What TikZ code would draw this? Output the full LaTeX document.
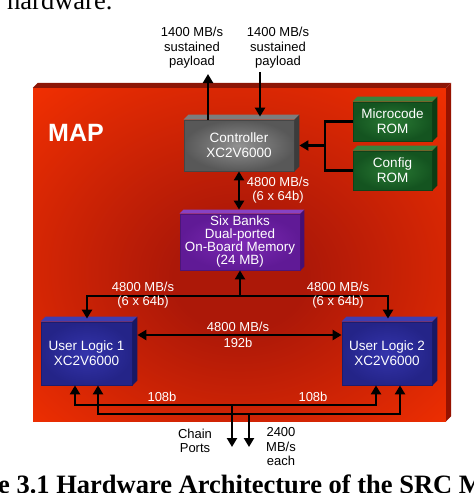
\documentclass[tikz,border=0pt]{standalone}
\usepackage{fontspec}
\setmainfont{Liberation Serif}
\newfontfamily\arialf{Liberation Sans}
\usetikzlibrary{arrows.meta,calc}
\definecolor{mapout}{RGB}{255,52,0}
\definecolor{mapin}{RGB}{172,24,8}
\definecolor{maptop}{RGB}{140,22,6}
\definecolor{mapside}{RGB}{150,18,0}
\definecolor{ctrlin}{RGB}{145,145,145}
\definecolor{ctrlout}{RGB}{88,88,88}
\definecolor{ctrltop}{RGB}{125,125,125}
\definecolor{ctrlside}{RGB}{60,60,60}
\definecolor{romin}{RGB}{42,122,52}
\definecolor{romout}{RGB}{20,84,32}
\definecolor{romtop}{RGB}{55,132,62}
\definecolor{romside}{RGB}{12,60,20}
\definecolor{memin}{RGB}{125,42,180}
\definecolor{memout}{RGB}{96,26,150}
\definecolor{memtop}{RGB}{135,65,195}
\definecolor{memside}{RGB}{70,15,115}
\definecolor{ulin}{RGB}{52,52,172}
\definecolor{ulout}{RGB}{36,36,136}
\definecolor{ultop}{RGB}{62,62,178}
\definecolor{ulside}{RGB}{24,24,100}
\pgfdeclareradialshading{mapshade}{\pgfpoint{0bp}{-4bp}}{color(0bp)=(mapin); color(8bp)=(mapin); color(42bp)=(mapout); color(50bp)=(mapout)}
\newcommand\cubenode[7]{%
  \node[#6, minimum width={(#4-#2)*1pt}, minimum height={(#5-#3)*1pt}] (#1) at ({(#2+#4)/2},{(#3+#5)/2}) {#7};}
\newcommand\extr[4]{%
  \fill[#2] (#1.north west) -- ([shift={(#4pt,#4pt)}]#1.north west) -- ([shift={(#4pt,#4pt)}]#1.north east) -- (#1.north east) -- cycle;
  \fill[#3] (#1.north east) -- ([shift={(#4pt,#4pt)}]#1.north east) -- ([shift={(#4pt,#4pt)}]#1.south east) -- (#1.south east) -- cycle;}
\begin{document}
\begin{tikzpicture}[x=1pt,y=-1pt,
  lbl/.style={font=\arialf\fontsize{13}{14.5}\selectfont, align=center, inner sep=0},
  wlbl/.style={lbl, text=white},
  boxbase/.style={inner sep=0, align=center, text=white, font=\arialf\fontsize{13.5}{15}\selectfont, shading=radial},
  ctrlsty/.style={boxbase, inner color=ctrlin, outer color=ctrlout, draw=ctrlout!80!black, line width=0.8},
  romsty/.style={boxbase, inner color=romin, outer color=romout, draw=romout!80!black, line width=0.8},
  memsty/.style={boxbase, inner color=memin, outer color=memout, draw=memout!80!black, line width=0.8, font=\arialf\fontsize{13.4}{13}\selectfont},
  ulsty/.style={boxbase, inner color=ulin, outer color=ulout, draw=ulout!80!black, line width=0.8},
  wire/.style={line width=2.6, line join=miter},
  tip/.tip={Triangle[length=9pt,width=10pt]},
  conn/.style={wire, -tip},
  dconn/.style={wire, tip-tip}]
\useasboundingbox (0,0) rectangle (474,493);
\clip (0,0) rectangle (474,493);
% MAP board
\node[inner sep=0, minimum width=413pt, minimum height=333pt, shading=mapshade] (map) at (239.5,254.5) {};
\extr{map}{maptop}{mapside}{5}
\node[font=\arialf\bfseries\fontsize{25}{25}\selectfont, text=white, inner sep=0] (maplbl) at (76,133) {MAP};
% boxes
\cubenode{ctrl}{184}{120}{294}{171}{ctrlsty}{Controller\\XC2V6000}
\extr{ctrl}{ctrltop}{ctrlside}{5}
\cubenode{mc}{353}{102}{432}{141}{romsty}{Microcode\\ROM}
\extr{mc}{romtop}{romside}{5}
\cubenode{cfg}{353}{151}{432}{190}{romsty}{Config\\ROM}
\extr{cfg}{romtop}{romside}{5}
\cubenode{mem}{180}{214}{300}{270}{memsty}{Six Banks\\Dual-ported\\On-Board Memory\\(24 MB)}
\extr{mem}{memtop}{memside}{4}
\cubenode{ul1}{41}{322}{132}{385}{ulsty}{User Logic 1\\XC2V6000}
\extr{ul1}{ultop}{ulside}{5}
\cubenode{ul2}{342}{322}{432}{385}{ulsty}{User Logic 2\\XC2V6000}
\extr{ul2}{ultop}{ulside}{5}
% top payload arrows
\coordinate (up1) at (208,74);
\coordinate (dn1) at (260,72);
\draw[conn] (ctrl.north -| up1) -- (up1);
\draw[conn] (dn1) -- ([yshift=3pt]ctrl.north -| dn1);
\node[lbl] (pl1) at (192,48) {1400 MB/s\\sustained\\payload};
\node[lbl] (pl2) at (278,48) {1400 MB/s\\sustained\\payload};
% ROM links
\coordinate (jt) at (325,145.5);
\draw[wire] (mc.west) -- (mc.west -| jt) -- (cfg.west -| jt) -- (cfg.west);
\draw[conn] (jt) -- ([xshift=5pt]ctrl.east);
% controller - memory
\draw[dconn] (ctrl.south) -- ([yshift=4pt]mem.north -| ctrl.south);
\node[wlbl] (l1) at (278,190) {4800 MB/s\\(6 x 64b)};
% memory bus
\coordinate (bus) at (240,296);
\coordinate (bl) at (87,296);
\coordinate (br) at (388,296);
\draw[conn] (bus) -- (mem.south);
\draw[dconn] ([yshift=3pt]ul1.north -| bl) -- (bl) -- (br) -- ([yshift=3pt]ul2.north -| br);
\node[wlbl] (l2) at (143,295) {4800 MB/s\\(6 x 64b)};
\node[wlbl] (l3) at (338,295) {4800 MB/s\\(6 x 64b)};
% user logic link
\coordinate (h1) at (0,335);
\draw[dconn] ([xshift=5pt]ul1.east |- h1) -- (ul2.west |- h1);
\node[wlbl] (l4) at (238,327) {4800 MB/s};
\node[wlbl] (l5) at (238,343) {192b};
% chain ports
\coordinate (b1) at (75,405);
\coordinate (b2) at (98,414);
\coordinate (b3) at (376,405);
\coordinate (b4) at (400,414);
\coordinate (c1) at (232,447);
\coordinate (c2) at (249,447);
\draw[dconn] (b1 |- ul1.south) -- (b1) -- (b3) -- (b3 |- ul2.south);
\draw[dconn] (b2 |- ul1.south) -- (b2) -- (b4) -- (b4 |- ul2.south);
\draw[conn] (b1 -| c1) -- (c1);
\draw[conn] (b2 -| c2) -- (c2);
\node[wlbl] (l6) at (162,397) {108b};
\node[wlbl] (l7) at (313,397) {108b};
\node[lbl] (cp) at (195,441) {Chain\\Ports};
\node[lbl] (bw) at (281,447) {2400\\MB/s\\each};
% surrounding text
\node[anchor=base west, inner sep=0, font=\fontsize{26.5}{26.5}\selectfont] (prev) at (7,9) {hardware.};
\node[anchor=base west, inner sep=0, font=\bfseries\fontsize{26.5}{26.5}\selectfont] (cap) at (-2,493) {e 3.1 Hardware Architecture of the SRC MAP};
\end{tikzpicture}
\end{document}
